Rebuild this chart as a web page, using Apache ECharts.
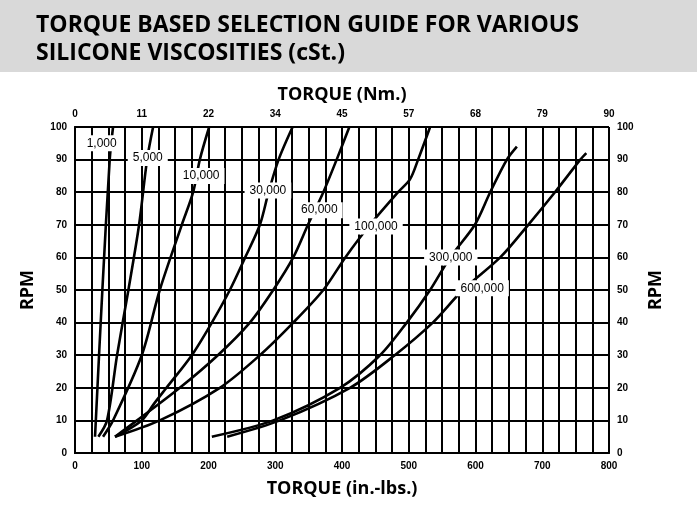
<!DOCTYPE html>
<html>
<head>
<meta charset="UTF-8">
<script src="https://cdn.jsdelivr.net/npm/echarts@6/dist/echarts.min.js"></script>
<style>body{margin:0;background:#fff}#main{width:697px;height:510px}</style>
</head>
<body>
<div id="main"></div>
<script>
// torque in in.-lbs, rpm
var nmLabels = ['0', '11', '22', '34', '45', '57', '68', '79', '90'];
var names = ['1,000', '5,000', '10,000', '30,000', '60,000', '100,000', '300,000', '600,000'];
var c1000 = [[30, 5], [41, 50], [52, 90], [57, 100]];
var c5000 = [[35, 5], [48, 10], [63, 30], [80, 50], [96, 70], [108, 90], [117, 100]];
var c10000 = [[42, 5], [57, 10], [100, 30], [127, 50], [160, 70], [177, 80], [187, 90], [201, 100]];
var c30000 = [[60, 5], [100, 10], [118, 15], [137, 20], [175, 30], [205, 40], [232, 50], [255, 60], [277, 70], [290, 80], [305, 90], [326, 100]];
var c60000 = [[60, 5], [93, 10], [157, 20], [214, 30], [262, 40], [297, 50], [327, 60], [349, 70], [372, 80], [392, 90], [411, 100]];
var c100000 = [[60, 5], [127, 10], [217, 20], [277, 30], [327, 40], [372, 50], [405, 60], [442, 70], [484, 80], [502, 84], [514, 90], [532, 100]];
var c300000 = [[205, 5], [297, 10], [397, 20], [457, 30], [497, 40], [532, 50], [562, 60], [599, 70], [622, 80], [647, 90], [662, 94]];
var c600000 = [[228, 5], [307, 10], [412, 20], [479, 30], [536, 40], [581, 50], [637, 60], [679, 70], [719, 80], [757, 90], [766, 92]];
var curves = [c1000, c5000, c10000, c30000, c60000, c100000, c300000, c600000];
// where each viscosity label sits (data coords)
var labelAt = [[40, 95], [109, 90.5], [189, 85], [289, 80.5], [366, 74.5], [451, 69.5], [563, 60], [610, 50.5]];

var chart = echarts.init(document.getElementById('main'));
var tickFont = {fontFamily: 'Liberation Sans Narrow, Liberation Sans', fontSize: 10, fontWeight: 'bold', color: '#000'};
var nameFont = {fontSize: 18, fontWeight: 'bold', color: '#000', fontFamily: 'Open Sans'};
var series = curves.map(function (d, i) {
  return {
    type: 'line', name: names[i], data: d, smooth: 0.3, symbol: 'none',
    lineStyle: {color: '#000', width: 2.6}, z: 5,
    markPoint: {
      symbolSize: 0, z: 10,
      data: [{coord: labelAt[i], value: names[i]}],
      label: {show: true, formatter: names[i], color: '#000', fontSize: 12,
        fontFamily: 'Liberation Sans', backgroundColor: '#fff', padding: [2, 5]}
    }
  };
});
var option = {
  animation: false,
  grid: {left: 75, right: 88, top: 127, bottom: 57},
  graphic: [
    {type: 'rect', shape: {x: 0, y: 0, width: 697, height: 72}, style: {fill: '#d9d9d9'}},
    {type: 'text', left: 36, top: 11, style: {text: 'TORQUE BASED SELECTION GUIDE FOR VARIOUS\nSILICONE VISCOSITIES (cSt.)',
      font: 'bold 23px "Open Sans", sans-serif', fill: '#000', lineHeight: 28}}
  ],
  xAxis: [{
    type: 'value', min: 0, max: 800, interval: 100, position: 'bottom',
    name: 'TORQUE (in.-lbs.)', nameLocation: 'middle', nameGap: 27, nameTextStyle: nameFont,
    axisLine: {lineStyle: {color: '#000', width: 2}}, axisTick: {show: false},
    axisLabel: tickFont,
    splitLine: {lineStyle: {color: '#000', width: 2}},
    minorTick: {show: false, splitNumber: 4},
    minorSplitLine: {show: true, lineStyle: {color: '#000', width: 2}}
  }, {
    type: 'value', min: 0, max: 800, interval: 100, position: 'top',
    name: 'TORQUE (Nm.)', nameLocation: 'middle', nameGap: 23, nameTextStyle: nameFont,
    axisLine: {lineStyle: {color: '#000', width: 2}}, axisTick: {show: false},
    axisLabel: Object.assign({formatter: function (v) { return nmLabels[v / 100]; }}, tickFont),
    splitLine: {show: false}
  }],
  yAxis: [{
    type: 'value', min: 0, max: 100, interval: 10, position: 'left',
    name: 'RPM', nameLocation: 'middle', nameGap: 38, nameRotate: 90, nameTextStyle: nameFont,
    axisLine: {show: true, lineStyle: {color: '#000', width: 2}}, axisTick: {show: false},
    axisLabel: tickFont,
    splitLine: {lineStyle: {color: '#000', width: 2}}
  }, {
    type: 'value', min: 0, max: 100, interval: 10, position: 'right',
    name: 'RPM', nameLocation: 'middle', nameGap: 38, nameRotate: 90, nameTextStyle: nameFont,
    axisLine: {show: true, lineStyle: {color: '#000', width: 2}}, axisTick: {show: false},
    axisLabel: tickFont,
    splitLine: {show: false}
  }],
  series: series
};
chart.setOption(option);
</script>
</body>
</html>
